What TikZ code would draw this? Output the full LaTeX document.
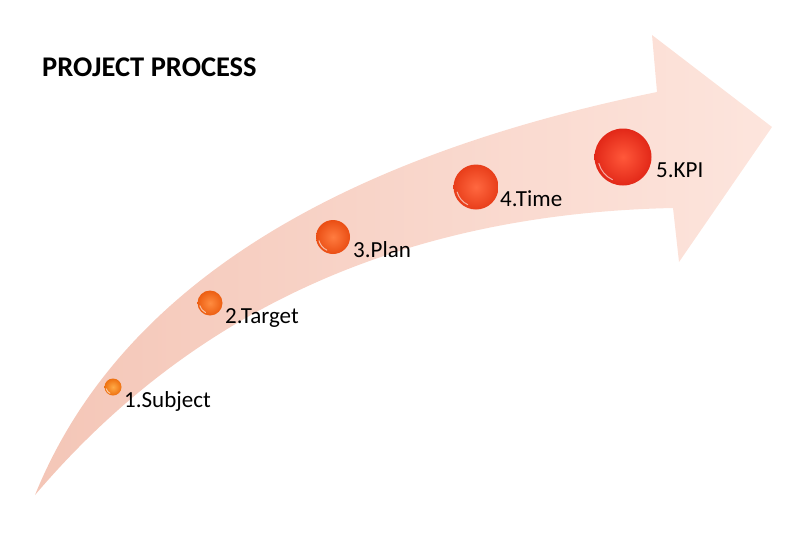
\documentclass[tikz,border=0pt]{standalone}
\usepackage{fontspec}
\setmainfont{Carlito}
\definecolor{arrowA}{HTML}{F4C6B7}
\definecolor{arrowB}{HTML}{FDE5DD}
\tikzset{
  ballnode/.style={circle, inner sep=0pt, minimum size=#1, shading=radial},
  lbl/.style={anchor=base west, inner sep=0pt, font=\fontsize{23}{27}\selectfont, text=black},
  gloss/.style={white, opacity=0.6, line width=1pt, line cap=round}
}
\begin{document}
\begin{tikzpicture}[x=1pt, y=-1pt]
\useasboundingbox (0,0) rectangle (800,533);
% arrow
\shade[left color=arrowA, right color=arrowB]
  (35,495) .. controls (110,310) and (300,165) .. (657,92)
  -- (652,35) -- (772,127) -- (679,262) -- (673,208)
  .. controls (340,215) and (150,360) .. (35,495)
  -- cycle;
% title
\node[anchor=base west, inner sep=0pt, font=\fontsize{28.5}{33}\selectfont\bfseries] (title) at (42,76) {PROJECT PROCESS};
% balls
\node[ballnode=17pt, inner color={rgb,255:red,255;green,170;blue,70}, outer color={rgb,255:red,238;green,112;blue,16}] (c1) at (113,387) {};
\node[ballnode=25pt, inner color={rgb,255:red,255;green,140;blue,64}, outer color={rgb,255:red,236;green,94;blue,18}] (c2) at (210,303) {};
\node[ballnode=34pt, inner color={rgb,255:red,255;green,124;blue,64}, outer color={rgb,255:red,234;green,78;blue,20}] (c3) at (333,237) {};
\node[ballnode=45pt, inner color={rgb,255:red,255;green,104;blue,64}, outer color={rgb,255:red,232;green,62;blue,26}] (c4) at (476,187) {};
\node[ballnode=57pt, inner color={rgb,255:red,255;green,88;blue,58}, outer color={rgb,255:red,226;green,40;blue,24}] (c5) at (623,157) {};
% glossy reflections
\foreach \n/\r in {c1/7,c2/10.5,c3/14.5,c4/19.5,c5/25}{
  \begin{scope}[shift={(\n.center)}, y=1pt]
    \draw[gloss] (195:\r) arc[start angle=195, end angle=245, radius=\r];
  \end{scope}
}
% labels
\node[lbl] (l1) at (124,407) {1.Subject};
\node[lbl] (l2) at (225,323) {2.Target};
\node[lbl] (l3) at (353,257) {3.Plan};
\node[lbl] (l4) at (500,206) {4.Time};
\node[lbl] (l5) at (656,177) {5.KPI};
\end{tikzpicture}
\end{document}
